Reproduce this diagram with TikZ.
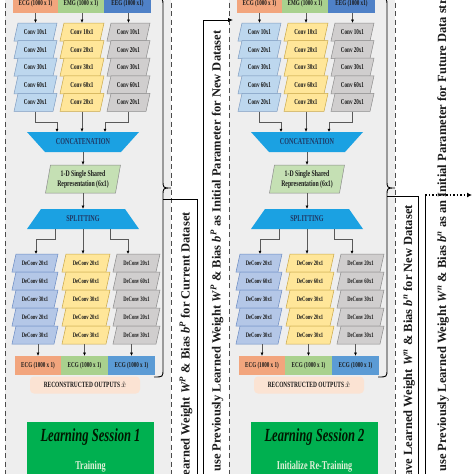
\documentclass[tikz,border=0pt]{standalone}
\usepackage{fontspec}
\setmainfont{Liberation Serif}
\newfontfamily\cnd[FakeStretch=0.68]{Liberation Serif}
\usetikzlibrary{arrows.meta}
\definecolor{ecgc}{HTML}{F2A57D}
\definecolor{emgc}{HTML}{A9D18E}
\definecolor{eegc}{HTML}{4F81C7}
\definecolor{outb}{HTML}{5B9BD5}
\definecolor{cvbc}{HTML}{BDD7EE}
\definecolor{cvbd}{HTML}{7F9CC0}
\definecolor{cvyc}{HTML}{FFE699}
\definecolor{cvyd}{HTML}{C9A84A}
\definecolor{cvgc}{HTML}{D0CECE}
\definecolor{cvgd}{HTML}{8C8C8C}
\definecolor{dcbc}{HTML}{B4C7E7}
\definecolor{dcbd}{HTML}{6C8CC4}
\definecolor{cyanc}{HTML}{1BA1E2}
\definecolor{navy}{HTML}{1F3864}
\definecolor{repc}{HTML}{C5E0B4}
\definecolor{peach}{HTML}{FBE3D3}
\definecolor{sessg}{HTML}{00B050}
\definecolor{panelbg}{HTML}{EEEEEE}
\definecolor{mint}{HTML}{E2F0D9}
\definecolor{darkt}{HTML}{1A1A1A}
\tikzset{
  bord/.style={draw=black!70,line width=0.8pt,dash pattern=on 5pt off 3.5pt},
  inbox/.style={inner sep=0pt,minimum height=19pt,text=darkt,font=\cnd\bfseries\fontsize{7.5}{8}\selectfont},
  outbox/.style={inner sep=0pt,minimum height=18.5pt,text=darkt,font=\cnd\bfseries\fontsize{7.5}{8}\selectfont},
  cvb/.style={fill=cvbc,draw=cvbd,line width=0.5pt},
  cvy/.style={fill=cvyc,draw=cvyd,line width=0.5pt},
  cvg/.style={fill=cvgc,draw=cvgd,line width=0.5pt},
  dcb/.style={fill=dcbc,draw=dcbd,line width=0.5pt},
  cvlbl/.style={inner sep=0pt,text=darkt,font=\cnd\bfseries\fontsize{7.5}{8}\selectfont},
  dclbl/.style={inner sep=0pt,text=darkt,font=\cnd\bfseries\fontsize{6.8}{7}\selectfont},
  bigshape/.style={fill=cyanc},
  biglbl/.style={inner sep=0pt,minimum height=20pt,text=navy,font=\cnd\bfseries\fontsize{9}{10}\selectfont},
  replbl/.style={inner sep=0pt,minimum height=28pt,align=center,text=darkt,font=\cnd\bfseries\fontsize{8.5}{10}\selectfont},
  reclbl/.style={fill=peach,rounded corners=4pt,minimum width=110pt,minimum height=17pt,inner sep=0pt,text=darkt,font=\cnd\bfseries\fontsize{8}{9}\selectfont},
  sessbox/.style={fill=sessg,minimum width=127pt,minimum height=58pt,inner sep=0pt},
  sesst/.style={inner sep=0pt,text=black!90!green,font=\cnd\bfseries\itshape\fontsize{18.5}{20}\selectfont},
  sessub/.style={inner sep=0pt,text=mint,font=\cnd\bfseries\fontsize{12}{13}\selectfont},
  arr/.style={draw=black!65,line width=0.5pt,-{Latex[length=3.2pt,width=3pt,color=black]}},
  flow/.style={draw=black,line width=0.9pt},
  flowarr/.style={draw=black,line width=0.9pt,-{Latex[length=5pt,width=4.5pt]}},
  dotarr/.style={draw=black,line width=1.5pt,dotted,-{Latex[length=5pt,width=5pt]}},
  rottext/.style={rotate=90,inner sep=0pt,text=darkt,font=\bfseries\fontsize{12.5}{14}\selectfont}
}
\newcommand\pbox[7]{%
  \path[#5] ({#2-#4},{#3+9}) -- ({#2+#4-4},{#3+9}) -- ({#2+#4},{#3-9}) -- ({#2-#4+4},{#3-9}) -- cycle;
  \node[#6,minimum height=18pt] (#1) at (#2,#3) {#7};}
\newcommand\panel[3]{%
  \fill[panelbg] (5,-6) rectangle (171,480);
  \draw[bord] (5,-6) -- (5,480);
  \draw[bord] (171,-6) -- (171,480);
  % inputs
  \node[inbox,fill=ecgc,minimum width=45pt] (#1in1) at (35.5,3.5) {ECG (1000 x 1)};
  \node[inbox,fill=emgc,minimum width=46pt] (#1in2) at (81,3.5) {EMG (1000 x 1)};
  \node[inbox,fill=eegc,minimum width=47pt] (#1in3) at (127.5,3.5) {EEG (1000 x1)};
  % conv stacks
  \foreach \lab [count=\k] in {10x1,20x1,30x1,60x1,20x1}{%
    \pgfmathsetmacro\cy{32+(\k-1)*17.6}%
    \pbox{#1bc\k}{35.5}{\cy}{21.5}{cvb}{cvlbl}{Conv \lab}%
    \pbox{#1yc\k}{82}{\cy}{22}{cvy}{cvlbl}{Conv \lab}%
    \pbox{#1gc\k}{128.5}{\cy}{21.5}{cvg}{cvlbl}{Conv \lab}%
  }
  \draw[arr] (#1bc1.north |- #1in1.south) -- (#1bc1.north);
  \draw[arr] (#1yc1.north |- #1in2.south) -- (#1yc1.north);
  \draw[arr] (#1gc1.north |- #1in3.south) -- (#1gc1.north);
  % concatenation
  \path[bigshape] (27,132) -- (139,132) -- (121,152) -- (45,152) -- cycle;
  \node[biglbl] (#1cat) at (83,142) {CONCATENATION};
  \coordinate (#1catl) at (57,132);
  \coordinate (#1catr) at (105,132);
  \draw[arr] (#1bc5.south) -- ++(0,10.5) -| (#1catl);
  \draw[arr] (#1yc5.south) -- (#1yc5.south |- #1cat.north);
  \draw[arr] (#1gc5.south) -- ++(0,10.5) -| (#1catr);
  % shared representation
  \path[fill=repc,draw=black!45,line width=0.5pt] (45.5,193) -- (115.5,193) -- (120.5,165) -- (50.5,165) -- cycle;
  \node[replbl] (#1rep) at (83,179) {1-D Single Shared\\Representation (6x1)};
  \draw[arr] (#1cat.south) -- (#1rep.north);
  % splitting
  \path[bigshape] (41,209) -- (125,209) -- (139,229) -- (27,229) -- cycle;
  \node[biglbl] (#1spl) at (83,219) {SPLITTING};
  \draw[arr] (#1rep.south) -- (#1spl.north);
  % deconv stacks
  \foreach \lab [count=\k] in {20x1,60x1,30x1,20x1,30x1}{%
    \pgfmathsetmacro\cy{263+(\k-1)*18}%
    \pbox{#1bd\k}{35}{\cy}{23}{dcb}{dclbl}{DeConv \lab}%
    \pbox{#1yd\k}{86}{\cy}{24}{cvy}{dclbl}{DeConv \lab}%
    \pbox{#1gd\k}{136.5}{\cy}{23.5}{cvg}{dclbl}{DeConv \lab}%
  }
  \coordinate (#1spll) at (55,229);
  \coordinate (#1splr) at (110,229);
  \coordinate (#1dl) at (36,254);
  \coordinate (#1dr) at (128,254);
  \draw[arr] (#1spll) -- ++(0,10) -| (#1dl);
  \draw[arr] (#1spl.south) -- (#1spl.south |- #1yd1.north);
  \draw[arr] (#1splr) -- ++(0,10) -| (#1dr);
  % outputs
  \node[outbox,fill=ecgc,minimum width=46pt] (#1o1) at (38,365.25) {ECG (1000 x 1)};
  \node[outbox,fill=emgc,minimum width=47pt] (#1o2) at (84.5,365.25) {ECG (1000 x 1)};
  \node[outbox,fill=outb,minimum width=47pt] (#1o3) at (131.5,365.25) {ECG (1000 x 1)};
  \draw[arr] (#1o1.north |- #1bd5.south) -- (#1o1.north);
  \draw[arr] (#1o2.north |- #1yd5.south) -- (#1o2.north);
  \draw[arr] (#1o3.north |- #1gd5.south) -- (#1o3.north);
  \node[reclbl] (#1rec) at (85,385) {RECONSTRUCTED OUTPUTS~$\hat{x}$};
  % learning session
  \node[sessbox] (#1ses) at (90.5,451) {};
  \node[sesst] (#1sest) at (90.5,437) {Learning Session #2};
  \node[sessub] (#1sesu) at (90.5,467) {#3};
}
\begin{document}
\begin{tikzpicture}[x=1pt,y=-1pt]
\useasboundingbox (0,0) rectangle (474,474);
\clip (0,0) rectangle (474,474);
\fill[white] (0,0) rectangle (474,474);
\panel{P}{1}{Training}
\begin{scope}[xshift=224pt]
\panel{Q}{2}{Initialize Re-Training}
\end{scope}
% flows of panel 1
\draw[flow] (154,-2) .. controls (163,-2) .. (163,6) -- (163,180) .. controls (163,188) .. (171,188)
  .. controls (163,188) .. (163,196) -- (163,369) .. controls (163,377) .. (154,377);
\coordinate (s1a) at (163,199);
\coordinate (s1b) at (197,480);
\draw[flow] (s1a) -| (s1b);
\coordinate (u1a) at (203,480);
\coordinate (u1b) at (233,20);
\draw[flowarr] (u1a) |- (u1b);
\node[rottext,anchor=east] (t1) at (186,212) {Save Learned Weight \textit{W}\textsuperscript{\textit{P}} \& Bias \textit{b}\textsuperscript{\textit{P}} for Current Dataset};
\node[rottext,anchor=west] (t2) at (217,472) {use Previously Learned Weight \textit{W}\textsuperscript{\textit{P}} \& Bias \textit{b}\textsuperscript{\textit{P}} as Initial Parameter for New Dataset};
% flows of panel 2
\draw[flow] (378,-2) .. controls (387,-2) .. (387,6) -- (387,180) .. controls (387,188) .. (395,188)
  .. controls (387,188) .. (387,196) -- (387,369) .. controls (387,377) .. (378,377);
\coordinate (s2a) at (387,196);
\coordinate (s2b) at (418,480);
\draw[flow] (s2a) -| (s2b);
\coordinate (u2a) at (425,480);
\coordinate (u2c) at (425,195);
\coordinate (u2b) at (472,195);
\draw[flow] (u2a) -- (u2c);
\draw[dotarr] (u2c) -- (u2b);
\node[rottext,anchor=east] (t3) at (409,205) {Save Learned Weight \textit{W}\textsuperscript{\textit{n}} \& Bias \textit{b}\textsuperscript{\textit{n}} for New Dataset};
\node[rottext,anchor=west] (t4) at (443,472) {use Previously Learned Weight \textit{W}\textsuperscript{\textit{n}} \& Bias \textit{b}\textsuperscript{\textit{n}} as an Initial Parameter for Future Data stream};
\end{tikzpicture}
\end{document}
